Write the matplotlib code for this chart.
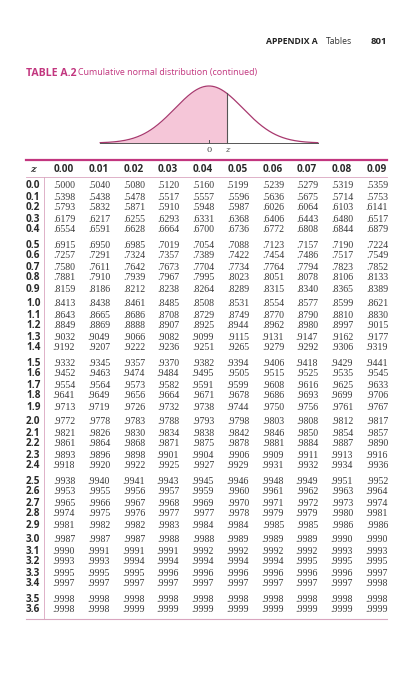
import numpy as np
import matplotlib
matplotlib.use("Agg")
import matplotlib.pyplot as plt

z_rows = ["0.0","0.1","0.2","0.3","0.4","0.5","0.6","0.7","0.8","0.9",
          "1.0","1.1","1.2","1.3","1.4","1.5","1.6","1.7","1.8","1.9",
          "2.0","2.1","2.2","2.3","2.4","2.5","2.6","2.7","2.8","2.9",
          "3.0","3.1","3.2","3.3","3.4","3.5","3.6"]
col_labels = ["0.00","0.01","0.02","0.03","0.04","0.05","0.06","0.07","0.08","0.09"]
table_values = """
5000 5040 5080 5120 5160 5199 5239 5279 5319 5359
5398 5438 5478 5517 5557 5596 5636 5675 5714 5753
5793 5832 5871 5910 5948 5987 6026 6064 6103 6141
6179 6217 6255 6293 6331 6368 6406 6443 6480 6517
6554 6591 6628 6664 6700 6736 6772 6808 6844 6879
6915 6950 6985 7019 7054 7088 7123 7157 7190 7224
7257 7291 7324 7357 7389 7422 7454 7486 7517 7549
7580 7611 7642 7673 7704 7734 7764 7794 7823 7852
7881 7910 7939 7967 7995 8023 8051 8078 8106 8133
8159 8186 8212 8238 8264 8289 8315 8340 8365 8389
8413 8438 8461 8485 8508 8531 8554 8577 8599 8621
8643 8665 8686 8708 8729 8749 8770 8790 8810 8830
8849 8869 8888 8907 8925 8944 8962 8980 8997 9015
9032 9049 9066 9082 9099 9115 9131 9147 9162 9177
9192 9207 9222 9236 9251 9265 9279 9292 9306 9319
9332 9345 9357 9370 9382 9394 9406 9418 9429 9441
9452 9463 9474 9484 9495 9505 9515 9525 9535 9545
9554 9564 9573 9582 9591 9599 9608 9616 9625 9633
9641 9649 9656 9664 9671 9678 9686 9693 9699 9706
9713 9719 9726 9732 9738 9744 9750 9756 9761 9767
9772 9778 9783 9788 9793 9798 9803 9808 9812 9817
9821 9826 9830 9834 9838 9842 9846 9850 9854 9857
9861 9864 9868 9871 9875 9878 9881 9884 9887 9890
9893 9896 9898 9901 9904 9906 9909 9911 9913 9916
9918 9920 9922 9925 9927 9929 9931 9932 9934 9936
9938 9940 9941 9943 9945 9946 9948 9949 9951 9952
9953 9955 9956 9957 9959 9960 9961 9962 9963 9964
9965 9966 9967 9968 9969 9970 9971 9972 9973 9974
9974 9975 9976 9977 9977 9978 9979 9979 9980 9981
9981 9982 9982 9983 9984 9984 9985 9985 9986 9986
9987 9987 9987 9988 9988 9989 9989 9989 9990 9990
9990 9991 9991 9991 9992 9992 9992 9992 9993 9993
9993 9993 9994 9994 9994 9994 9994 9995 9995 9995
9995 9995 9995 9996 9996 9996 9996 9996 9996 9997
9997 9997 9997 9997 9997 9997 9997 9997 9997 9998
9998 9998 9998 9998 9998 9998 9998 9998 9998 9998
9998 9998 9999 9999 9999 9999 9999 9999 9999 9999
""".split()

MAG = "#c2367f"
TXT = "#2a2a2a"
fig = plt.figure(figsize=(4.14, 7.0), dpi=100)
ax = fig.add_axes([0, 0, 1, 1])
ax.set_xlim(0, 414); ax.set_ylim(700, 0); ax.axis("off")

ax.text(318, 42, "APPENDIX A", fontsize=6.2, fontweight="bold", ha="right", va="center", family="Open Sans", color="#222")
ax.text(326, 42, "Tables", fontsize=6.2, ha="left", va="center", family="Open Sans", color="#333")
ax.text(387, 42, "801", fontsize=6.8, fontweight="bold", ha="right", va="center", family="Open Sans", color="#222")
ax.text(26, 73, "TABLE A.2", fontsize=7.6, fontweight="bold", ha="left", va="center", family="Open Sans", color=MAG)
ax.text(78, 73, "Cumulative normal distribution (continued)", fontsize=6.4, ha="left", va="center", family="Open Sans", color=MAG)

# curve
xs = np.linspace(-3.2, 3.2, 400)
pdf = np.exp(-xs**2/2)
px = 209 + xs * 34
py = 143 - pdf * 57
zc = 0.53
m = xs <= zc
ax.fill_between(px[m], py[m], 143, color="#f5c6d8", lw=0)
ax.plot(px, py, color="#a8386e", lw=0.9)
ax.plot([100, 318], [143, 143], color="#555", lw=0.7)
ax.plot([209 + zc*34]*2, [143 - np.exp(-zc**2/2)*57, 143], color="#555", lw=0.8)
ax.plot([209, 209], [140, 143], color="#555", lw=0.7)
ax.text(209, 150, "0", fontsize=6, ha="center", va="center", family="DejaVu Serif", color="#444")
ax.text(227, 150, "z", fontsize=6, ha="center", va="center", family="DejaVu Serif", style="italic", color="#444")

ax.plot([26, 387], [160, 160], color=MAG, lw=1.6)
ax.plot([26, 387], [176.5, 176.5], color="#d9a5bf", lw=0.6)
ax.plot([44, 44], [176.5, 619], color="#d9a5bf", lw=0.6)
ax.plot([26, 387], [619, 619], color="#d9a5bf", lw=0.8)

col_x = [64, 99, 134, 168, 203, 238, 273, 307, 342, 377]
ax.text(33, 169, "z", fontsize=7.2, ha="center", va="center", family="DejaVu Serif", style="italic", fontweight="bold", color=TXT)
for cx, lab in zip(col_x, col_labels):
    ax.text(cx, 169, lab, fontsize=7.2, fontweight="bold", ha="center", va="center", family="Open Sans", color=TXT)

for i, zl in enumerate(z_rows):
    y = 186 + i * 11 + (i // 5) * 4
    ax.text(26, y, zl, fontsize=7.2, fontweight="bold", ha="left", va="center", family="Open Sans", color=TXT)
    for j, cx in enumerate(col_x):
        ax.text(cx, y, "." + table_values[i*10 + j], fontsize=7.1, ha="center", va="center",
                family="Liberation Serif", color="#3a3a3a")

fig.savefig("out.png", dpi=100, facecolor="white")
